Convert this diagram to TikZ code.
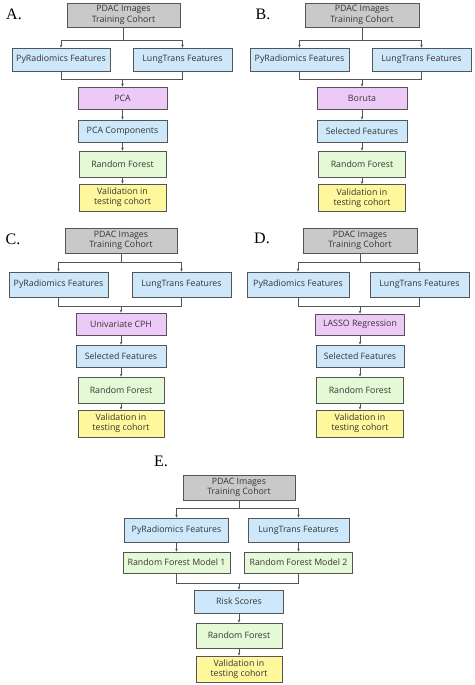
\documentclass[tikz,border=0pt]{standalone}
\usepackage{fontspec}
\setmainfont{Open Sans}
\newfontfamily\labelfont{Liberation Serif}
\usetikzlibrary{arrows.meta}
\definecolor{txt}{HTML}{353535}
\definecolor{bord}{HTML}{555555}
\definecolor{cgray}{HTML}{C9C9C9}
\definecolor{cblue}{HTML}{CDE8FB}
\definecolor{cpurp}{HTML}{EDC9F7}
\definecolor{cgreen}{HTML}{E5F9D6}
\definecolor{cyell}{HTML}{FFF79C}
\tikzset{
  box/.style={draw=bord, line width=0.8pt, text=txt, inner sep=0pt, align=center,
    font=\fontsize{8.8pt}{10.4pt}\selectfont},
  gbox/.style={box, fill=cgray},
  bbox/.style={box, fill=cblue},
  pbox/.style={box, fill=cpurp},
  grbox/.style={box, fill=cgreen},
  ybox/.style={box, fill=cyell},
  wh/.style 2 args={minimum width=#1pt, minimum height=#2pt},
  conn/.style={draw=bord, line width=0.7pt},
  arr/.style={conn, -{Stealth[length=3pt,width=2.6pt]}},
  plabel/.style={text=black, font=\labelfont\fontsize{16pt}{16pt}\selectfont, inner sep=0pt}
}
\begin{document}
\begin{tikzpicture}[x=1pt,y=-1pt]
\useasboundingbox[fill=white] (0,0) rectangle (474,685);

% ---------- Panel A ----------
\node[plabel] (labA) at (14,14) {A.};
\node[gbox, wh={113}{24}] (Apdac) at (123.5,15) {PDAC Images\\Training Cohort};
\node[bbox, wh={98}{23}] (Apyr) at (61,59.5) {PyRadiomics Features};
\node[bbox, wh={99}{23}] (Alung) at (182.5,59.5) {LungTrans Features};
\node[pbox, wh={89}{22}] (Apca) at (122.5,98) {PCA};
\node[bbox, wh={89}{22}] (Acomp) at (122.5,131) {PCA Components};
\node[grbox, wh={87}{26}] (Arf) at (122.5,164) {Random Forest};
\node[ybox, wh={87}{27}] (Aval) at (122.5,197.5) {Validation in\\testing cohort};
\coordinate (As) at (123.5,40);
\coordinate (Am) at (122.5,79);
\draw[conn] (Apdac.south) -- (As);
\draw[arr] (As) -| (Apyr.north);
\draw[arr] (As) -| (Alung.north);
\draw[conn] (Apyr.south) |- (Am);
\draw[conn] (Alung.south) |- (Am);
\draw[arr] (Am) -- (Apca.north);
\draw[arr] (Apca) -- (Acomp);
\draw[arr] (Acomp) -- (Arf);
\draw[arr] (Arf) -- (Aval);

% ---------- Panel B ----------
\node[plabel] (labB) at (263,14) {B.};
\node[gbox, wh={114}{24}] (Bpdac) at (362,15) {PDAC Images\\Training Cohort};
\node[bbox, wh={99}{23}] (Bpyr) at (299.5,59.5) {PyRadiomics Features};
\node[bbox, wh={99}{23}] (Blung) at (421.5,59.5) {LungTrans Features};
\node[pbox, wh={90}{22}] (Bbor) at (362,98) {Boruta};
\node[bbox, wh={90}{22}] (Bsel) at (362,131) {Selected Features};
\node[grbox, wh={87}{26}] (Brf) at (362,164) {Random Forest};
\node[ybox, wh={87}{27}] (Bval) at (362,198) {Validation in\\testing cohort};
\coordinate (Bs) at (362,40);
\coordinate (Bm) at (362,79);
\draw[conn] (Bpdac.south) -- (Bs);
\draw[arr] (Bs) -| (Bpyr.north);
\draw[arr] (Bs) -| (Blung.north);
\draw[conn] (Bpyr.south) |- (Bm);
\draw[conn] (Blung.south) |- (Bm);
\draw[arr] (Bm) -- (Bbor.north);
\draw[arr] (Bbor) -- (Bsel);
\draw[arr] (Bsel) -- (Brf);
\draw[arr] (Brf) -- (Bval);

% ---------- Panel C ----------
\node[plabel] (labC) at (13,239) {C.};
\node[gbox, wh={112}{25}] (Cpdac) at (121,240.5) {PDAC Images\\Training Cohort};
\node[bbox, wh={99}{25}] (Cpyr) at (58.5,284.5) {PyRadiomics Features};
\node[bbox, wh={99}{25}] (Clung) at (181.5,284.5) {LungTrans Features};
\node[pbox, wh={90}{22}] (Ccph) at (121,324) {Univariate CPH};
\node[bbox, wh={90}{22}] (Csel) at (121,356) {Selected Features};
\node[grbox, wh={86}{26}] (Crf) at (121,390) {Random Forest};
\node[ybox, wh={86}{27}] (Cval) at (121,423.5) {Validation in\\testing cohort};
\coordinate (Cs) at (121,262);
\coordinate (Cm) at (121,306);
\draw[conn] (Cpdac.south) -- (Cs);
\draw[arr] (Cs) -| (Cpyr.north);
\draw[arr] (Cs) -| (Clung.north);
\draw[conn] (Cpyr.south) |- (Cm);
\draw[conn] (Clung.south) |- (Cm);
\draw[arr] (Cm) -- (Ccph.north);
\draw[arr] (Ccph) -- (Csel);
\draw[arr] (Csel) -- (Crf);
\draw[arr] (Crf) -- (Cval);

% ---------- Panel D ----------
\node[plabel] (labD) at (262,238) {D.};
\node[gbox, wh={114}{25}] (Dpdac) at (360,240.5) {PDAC Images\\Training Cohort};
\node[bbox, wh={102}{25}] (Dpyr) at (298,284.5) {PyRadiomics Features};
\node[bbox, wh={99}{25}] (Dlung) at (419.5,284.5) {LungTrans Features};
\node[pbox, wh={89}{21}] (Dlasso) at (360,324.5) {LASSO Regression};
\node[bbox, wh={88}{22}] (Dsel) at (360,356) {Selected Features};
\node[grbox, wh={87}{26}] (Drf) at (360,390) {Random Forest};
\node[ybox, wh={87}{27}] (Dval) at (360,423.5) {Validation in\\testing cohort};
\coordinate (Ds) at (360,262);
\coordinate (Dm) at (360,306);
\draw[conn] (Dpdac.south) -- (Ds);
\draw[arr] (Ds) -| (Dpyr.north);
\draw[arr] (Ds) -| (Dlung.north);
\draw[conn] (Dpyr.south) |- (Dm);
\draw[conn] (Dlung.south) |- (Dm);
\draw[arr] (Dm) -- (Dlasso.north);
\draw[arr] (Dlasso) -- (Dsel);
\draw[arr] (Dsel) -- (Drf);
\draw[arr] (Drf) -- (Dval);

% ---------- Panel E ----------
\node[plabel] (labE) at (161,461) {E.};
\node[gbox, wh={112}{25}] (Epdac) at (239,487.5) {PDAC Images\\Training Cohort};
\node[bbox, wh={104}{24}] (Epyr) at (176.5,530) {PyRadiomics Features};
\node[bbox, wh={101}{24}] (Elung) at (298.5,530) {LungTrans Features};
\node[grbox, wh={107}{21}] (Erf1) at (176.5,562.5) {Random Forest Model 1};
\node[grbox, wh={108}{21}] (Erf2) at (298.5,562.5) {Random Forest Model 2};
\node[bbox, wh={89}{23}] (Erisk) at (239,601.5) {Risk Scores};
\node[grbox, wh={86}{25}] (Erf) at (239,635.5) {Random Forest};
\node[ybox, wh={86}{26}] (Eval) at (239,669) {Validation in\\testing cohort};
\coordinate (Es) at (239,508);
\coordinate (Em) at (239,583);
\draw[conn] (Epdac.south) -- (Es);
\draw[arr] (Es) -| (Epyr.north);
\draw[arr] (Es) -| (Elung.north);
\draw[arr] (Epyr) -- (Erf1);
\draw[arr] (Elung) -- (Erf2);
\draw[conn] (Erf1.south) |- (Em);
\draw[conn] (Erf2.south) |- (Em);
\draw[arr] (Em) -- (Erisk.north);
\draw[arr] (Erisk) -- (Erf);
\draw[arr] (Erf) -- (Eval);
\end{tikzpicture}
\end{document}
